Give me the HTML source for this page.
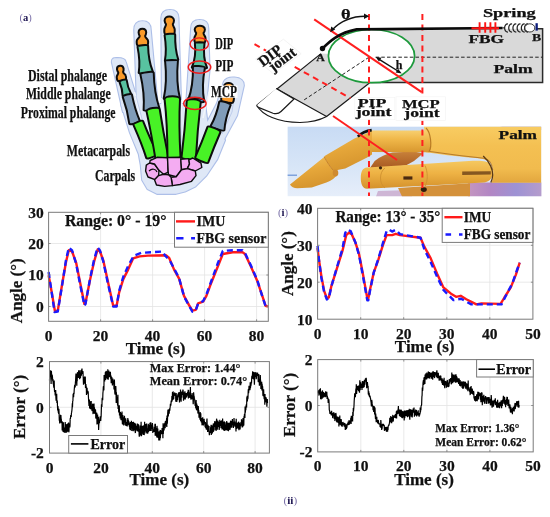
<!DOCTYPE html>
<html><head><meta charset="utf-8"><title>Figure</title>
<style>
html,body{margin:0;padding:0;background:#fff;}
body{width:550px;height:517px;overflow:hidden;}
svg{display:block;}
text{font-family:"Liberation Serif","Times New Roman",serif;font-weight:bold;fill:#111;stroke:#111;stroke-width:0.25px;}
.grid{stroke:#e3e3e3;stroke-width:0.8;}
.ax{fill:none;stroke:#7a7a7a;stroke-width:1;}
.tk{stroke:#7a7a7a;stroke-width:0.8;}
.leg{fill:#fff;stroke:#7a7a7a;stroke-width:1;}
.red{fill:none;stroke:#ff1a1a;stroke-width:2.4;stroke-linejoin:round;}
.blue{fill:none;stroke:#1a1aff;stroke-width:2.4;stroke-dasharray:6 4;stroke-linejoin:round;}
.err{fill:none;stroke:#000;stroke-width:1.2;stroke-linejoin:bevel;}
.errl{stroke:#000;stroke-width:1.6;}
.tl{font-size:15.5px;}
.lt{font-size:14px;}
.rg{font-size:15.8px;}
.al{font-size:17px;}
.me{font-size:12.3px;}
.lab{font-size:10.5px;font-weight:bold;}
</style></head>
<body>
<svg width="550" height="517" viewBox="0 0 550 517">
<rect width="550" height="517" fill="#fff"/>
<g id="hand">
<g fill="none" stroke="#adbfe8" stroke-width="2.2" stroke-linejoin="round">
<path d="M111.9 62 C111.9 57.5 115 58.2 117.8 58.2 C121 58.2 124.8 58.5 125.7 62 L141 112 L123 112 Z"/>
<path d="M134.3 30 C134.3 23.5 138 21.3 142.5 21.3 C147 21.3 150.7 23.5 150.7 30 L157.5 104 L137 104 Z"/>
<path d="M161.4 18 C161.4 12.5 165 10 170 10 C175 10 178.4 12.5 178.4 18 L181 104 L162 104 Z"/>
<path d="M191.2 28 C191.2 22 195 20 199.7 20 C204.5 20 208.2 22 208.2 28 L209.5 70 L206.5 100 L205 108 L186 108 Z"/>
<path d="M223.8 82 C225.5 78.5 230 77.3 234.5 77.6 C240 78 243.8 80.5 243.8 85.5 L237 115.6 L213 160 L205 122 L207.5 121.8 L217.2 103 Z"/>
<path d="M121 104 L205 104 L207.3 121.5 L215 130 L225 140 L217.3 159.1 L206.4 175.5 L195.3 186.5 L185 191.5 L176 193.8 L157 193.8 L147.5 189 L142.2 180 L140.8 165 L138.8 154 L130 132.7 Z"/>
</g><g fill="#dfe8f7" stroke="none">
<path d="M111.9 62 C111.9 57.5 115 58.2 117.8 58.2 C121 58.2 124.8 58.5 125.7 62 L141 112 L123 112 Z"/>
<path d="M134.3 30 C134.3 23.5 138 21.3 142.5 21.3 C147 21.3 150.7 23.5 150.7 30 L157.5 104 L137 104 Z"/>
<path d="M161.4 18 C161.4 12.5 165 10 170 10 C175 10 178.4 12.5 178.4 18 L181 104 L162 104 Z"/>
<path d="M191.2 28 C191.2 22 195 20 199.7 20 C204.5 20 208.2 22 208.2 28 L209.5 70 L206.5 100 L205 108 L186 108 Z"/>
<path d="M223.8 82 C225.5 78.5 230 77.3 234.5 77.6 C240 78 243.8 80.5 243.8 85.5 L237 115.6 L213 160 L205 122 L207.5 121.8 L217.2 103 Z"/>
<path d="M121 104 L205 104 L207.3 121.5 L215 130 L225 140 L217.3 159.1 L206.4 175.5 L195.3 186.5 L185 191.5 L176 193.8 L157 193.8 L147.5 189 L142.2 180 L140.8 165 L138.8 154 L130 132.7 Z"/>
</g>
<g fill="none" stroke="#f4f7fc" stroke-width="1.6" opacity="0.9">
<path d="M134.5 92 L146 140 M158 100 L165 150 M161.8 98 L163 120 M181 100 L182 150 M186.5 100 L184 140 M209 92 L203 118"/>
</g>
<g fill="none" stroke="#b9c8ea" stroke-width="0.9">
<path d="M136 96 L147.5 140 M157 104 L164 148 M180.5 104 L181.5 150 M187 104 L185 140 M235.5 88 L232 112 L222 134"/>
</g>
<g stroke="#0d0d0d" stroke-width="2.0" stroke-linejoin="round">
<path d="M117.0 69.5 C116.5 65.0 123.0 64.2 123.6 68.7 C123.7 70.8 123.1 71.8 123.1 71.8 C123.3 73.7 125.6 74.2 125.8 75.9 C126.2 77.9 126.4 80.1 125.0 80.3 L118.6 81.1 C117.2 81.3 116.9 79.1 116.7 77.1 C116.5 75.3 118.6 74.3 118.3 72.4 C118.3 72.4 117.5 71.6 117.0 69.5 Z" fill="#f99a2a"/>
<path d="M119.5 82.0 C119.1 80.5 126.3 78.5 126.7 80.0 C127.3 85.0 128.4 89.0 131.0 93.4 C131.5 95.0 123.0 97.3 122.6 95.8 C122.6 90.6 121.5 86.6 119.5 82.0 Z" fill="#58c2a0"/>
<path d="M122.7 96.8 C122.3 95.3 131.5 92.8 131.9 94.4 C133.8 103.9 135.9 112.0 139.9 121.0 C140.3 122.5 129.7 125.4 129.3 123.8 C128.1 114.1 126.0 106.0 122.7 96.8 Z" fill="#809cb8"/>
<path d="M133.5 125.2 C132.8 123.4 142.3 119.4 143.1 121.2 C147.6 132.7 151.7 142.5 157.5 153.5 C158.3 155.3 147.0 159.9 146.3 158.1 C142.6 146.3 138.5 136.5 133.5 125.2 Z" fill="#48f226"/>
<path d="M138.6 32.5 C138.6 27.4 146.2 27.4 146.2 32.5 C146.0 34.9 145.1 35.9 145.1 35.9 C145.1 38.1 148.1 39.0 148.1 41.0 C148.2 43.2 148.1 45.8 146.4 45.8 L138.4 45.8 C136.7 45.8 136.6 43.2 136.7 41.0 C136.7 39.0 139.7 38.1 139.7 35.9 C139.7 35.9 138.8 34.9 138.6 32.5 Z" fill="#f99a2a"/>
<path d="M137.5 46.9 C137.4 45.3 147.9 44.2 148.1 45.7 C148.3 54.8 149.2 62.5 152.7 71.2 C152.8 72.8 138.9 74.3 138.7 72.8 C140.2 63.5 139.3 55.8 137.5 46.9 Z" fill="#58c2a0"/>
<path d="M140.3 74.1 C140.1 72.6 153.6 70.9 153.7 72.5 C154.0 85.2 155.3 96.0 159.4 108.2 C159.6 109.8 143.8 111.7 143.6 110.2 C144.5 97.3 143.2 86.5 140.3 74.1 Z" fill="#809cb8"/>
<path d="M146.5 111.4 C145.9 108.6 159.2 106.2 159.7 109.0 C162.2 125.6 164.8 139.8 168.2 156.3 C168.5 158.1 155.7 160.5 155.4 158.7 C152.7 142.1 150.1 127.9 146.5 111.4 Z" fill="#48f226"/>
<path d="M164.6 20.7 C164.5 15.3 173.9 15.1 174.0 20.5 C173.8 23.0 172.8 24.1 172.8 24.1 C172.8 26.4 174.6 27.3 174.7 29.4 C174.8 31.8 174.8 34.5 173.2 34.5 L166.0 34.7 C164.4 34.7 164.2 32.0 164.3 29.7 C164.2 27.5 166.0 26.6 166.0 24.2 C166.0 24.2 164.9 23.2 164.6 20.7 Z" fill="#f99a2a"/>
<path d="M164.6 35.3 C164.5 33.7 175.1 33.0 175.2 34.5 C175.0 43.5 175.5 51.0 178.3 59.8 C178.4 61.3 165.0 62.2 164.9 60.6 C166.5 51.6 166.0 44.1 164.6 35.3 Z" fill="#58c2a0"/>
<path d="M165.1 61.2 C165.1 59.6 177.9 59.5 177.9 61.0 C176.7 74.1 176.8 85.3 179.9 98.3 C179.9 99.9 163.7 100.0 163.7 98.5 C166.6 85.4 166.5 74.2 165.1 61.2 Z" fill="#809cb8"/>
<path d="M164.6 99.4 C164.5 95.5 179.9 95.1 180.0 99.0 C178.9 119.3 179.4 136.6 180.5 156.8 C180.6 158.6 167.6 159.0 167.5 157.2 C167.4 136.9 166.9 119.6 164.6 99.4 Z" fill="#48f226"/>
<path d="M194.7 29.7 C194.6 24.5 204.8 24.3 204.9 29.5 C204.7 31.9 203.5 32.9 203.5 32.9 C203.5 35.1 205.4 36.0 205.5 38.0 C205.6 40.2 205.5 42.8 203.9 42.8 L196.1 43.0 C194.5 43.0 194.3 40.4 194.4 38.2 C194.3 36.2 196.2 35.3 196.2 33.0 C196.2 33.0 195.0 32.0 194.7 29.7 Z" fill="#f99a2a"/>
<path d="M194.9 43.2 C194.9 41.7 204.5 41.8 204.5 43.4 C203.4 51.9 203.3 59.1 207.0 67.7 C207.0 69.3 191.8 69.1 191.8 67.5 C195.7 59.0 195.8 51.8 194.9 43.2 Z" fill="#58c2a0"/>
<path d="M192.9 66.7 C193.0 65.2 205.0 66.1 204.9 67.7 C202.7 79.2 201.9 89.2 204.2 101.1 C204.0 102.7 188.1 101.4 188.2 99.9 C192.4 88.5 193.2 78.5 192.9 66.7 Z" fill="#809cb8"/>
<path d="M188.3 97.7 C188.4 97.2 204.3 99.0 204.3 99.5 C203.9 100.4 203.8 101.2 203.7 102.2 C203.6 102.7 188.2 101.0 188.3 100.4 C188.4 99.5 188.5 98.7 188.3 97.7 Z" fill="#5b9fd9"/>
<path d="M186.7 101.2 C187.0 97.9 201.0 99.2 200.7 102.4 C198.4 122.0 196.9 138.9 195.9 158.6 C195.8 160.5 181.3 159.2 181.5 157.4 C184.0 137.8 185.5 120.9 186.7 101.2 Z" fill="#48f226"/>
<path d="M223.6 87.0 C224.2 81.2 234.1 82.1 233.6 87.9 C233.1 90.6 231.8 91.7 231.9 91.3 C231.6 94.2 234.2 95.4 234.0 97.8 C233.9 100.3 233.5 103.2 231.6 103.0 L222.8 102.2 C220.9 102.0 221.1 99.1 221.4 96.6 C221.6 94.3 224.4 93.5 224.7 90.6 C224.7 91.0 223.6 89.7 223.6 87.0 Z" fill="#f99a2a"/>
<path d="M219.3 101.5 C219.7 100.0 231.2 103.4 230.7 104.9 C227.3 113.4 225.0 120.9 224.4 130.3 C223.9 131.8 210.2 127.6 210.6 126.1 C215.2 118.0 217.5 110.5 219.3 101.5 Z" fill="#809cb8"/>
<path d="M207.5 126.8 C208.2 125.1 221.2 130.3 220.5 132.0 C215.9 142.6 212.2 151.8 208.2 162.6 C207.5 164.3 194.5 159.1 195.2 157.4 C199.8 146.8 203.5 137.6 207.5 126.8 Z" fill="#48f226"/>
<path d="M146.3 165.2 L149.5 163.0 L154.5 164.0 L159.0 170.3 L158.6 175.6 L155.0 179.6 L148.0 177.0 L145.6 171.0 Z" fill="#f4acf2" stroke-width="1.4"/>
<path d="M150.1 160.5 L157.1 157.3 L167.5 157.8 L168.2 172.2 L163.5 174.3 L159.0 170.3 L154.5 164.0 L149.8 163.0 Z" fill="#f4acf2" stroke-width="1.4"/>
<path d="M167.5 157.5 L180.8 157.3 L181.5 169.8 L176.2 176.7 L168.5 174.8 L168.2 172.2 Z" fill="#f4acf2" stroke-width="1.4"/>
<path d="M180.8 159.3 L188.9 158.6 L189.5 164.0 L187.2 168.6 L181.5 169.8 Z" fill="#f4acf2" stroke-width="1.4"/>
<path d="M188.9 159.8 L192.7 158.0 L201.0 163.2 L201.8 167.5 L195.3 171.0 L187.4 168.6 L189.5 164.0 Z" fill="#f4acf2" stroke-width="1.4"/>
<path d="M171.1 177.3 L176.2 176.7 L181.5 169.8 L187.4 168.6 L195.3 171.0 L196.0 175.6 L191.5 181.3 L180.0 184.5 L172.4 185.6 Z" fill="#f4acf2" stroke-width="1.4"/>
<path d="M154.5 179.8 L158.6 175.6 L163.5 174.3 L168.5 174.8 L171.1 177.3 L172.4 185.6 L164.7 186.4 L156.5 185.0 Z" fill="#f4acf2" stroke-width="1.4"/>
<path d="M149 171 C152 168 156 169 157 172" fill="none" stroke-width="1.2"/>
</g>
<g fill="none" stroke="#ee1c1c" stroke-width="1.4">
<ellipse cx="199.3" cy="44" rx="9.2" ry="6.1"/>
<ellipse cx="199.5" cy="67.1" rx="11.3" ry="6.1"/>
<ellipse cx="194.9" cy="103.4" rx="11.2" ry="6.1"/>
</g>
<rect x="210.5" y="85.5" width="27" height="12.3" fill="#fff"/>
</g>
<text x="67.5" y="80.6" text-anchor="middle" font-size="16" textLength="79" lengthAdjust="spacingAndGlyphs">Distal phalange</text>
<text x="68.3" y="99.3" text-anchor="middle" font-size="16" textLength="84.6" lengthAdjust="spacingAndGlyphs">Middle phalange</text>
<text x="68.2" y="117.5" text-anchor="middle" font-size="16" textLength="94.7" lengthAdjust="spacingAndGlyphs">Proximal phalange</text>
<text x="98.4" y="155.9" text-anchor="middle" font-size="16" textLength="63.2" lengthAdjust="spacingAndGlyphs">Metacarpals</text>
<text x="115.1" y="180.8" text-anchor="middle" font-size="16" textLength="40.1" lengthAdjust="spacingAndGlyphs">Carpals</text>
<text x="224.2" y="48.5" text-anchor="middle" font-size="16" textLength="18.1" lengthAdjust="spacingAndGlyphs">DIP</text>
<text x="224.2" y="70.6" text-anchor="middle" font-size="16" textLength="18.1" lengthAdjust="spacingAndGlyphs">PIP</text>
<text x="223.9" y="97.2" text-anchor="middle" font-size="16" textLength="26" lengthAdjust="spacingAndGlyphs">MCP</text>
<g id="photo">
<defs>
<linearGradient id="pbg" x1="0" y1="0" x2="0" y2="1">
<stop offset="0" stop-color="#c8dbf4"/><stop offset="0.55" stop-color="#d7e5f7"/><stop offset="1" stop-color="#e6eefa"/>
</linearGradient>
<linearGradient id="pur" x1="0" y1="0" x2="1" y2="0">
<stop offset="0" stop-color="#c496c0"/><stop offset="0.3" stop-color="#b286c4"/><stop offset="0.65" stop-color="#9d92d4"/><stop offset="1" stop-color="#b59ccc"/>
</linearGradient>
<linearGradient id="wv" x1="0" y1="0" x2="0" y2="1">
<stop offset="0" stop-color="#f7cf70"/><stop offset="0.4" stop-color="#f0b84a"/><stop offset="1" stop-color="#d8972f"/>
</linearGradient>
<linearGradient id="wv2" x1="0" y1="0" x2="0" y2="1">
<stop offset="0" stop-color="#f5c860"/><stop offset="0.45" stop-color="#eeb244"/><stop offset="1" stop-color="#d4912c"/>
</linearGradient>
<linearGradient id="wd" x1="0" y1="0" x2="0.3" y2="1">
<stop offset="0" stop-color="#f2c05a"/><stop offset="0.5" stop-color="#e6a73a"/><stop offset="1" stop-color="#d6952e"/>
</linearGradient>
<linearGradient id="wpalm" x1="0" y1="0" x2="0" y2="1">
<stop offset="0" stop-color="#f8cc62"/><stop offset="0.35" stop-color="#f4c052"/><stop offset="0.75" stop-color="#f1bb4e"/><stop offset="1" stop-color="#e2a63e"/>
</linearGradient>
<linearGradient id="wdark" x1="0" y1="0" x2="0" y2="1">
<stop offset="0" stop-color="#c8813a"/><stop offset="1" stop-color="#a85a22"/>
</linearGradient>
<clipPath id="pclip"><rect x="287.4" y="126.4" width="254" height="70"/></clipPath>
</defs>
<g clip-path="url(#pclip)">
<rect x="287.4" y="126.4" width="254" height="70" fill="url(#pbg)"/>
<rect x="468" y="182.5" width="74" height="14" fill="url(#pur)"/>
<path d="M378 191 L412 190 L412 196.5 L376 196.5 Z" fill="#c8a8cc" opacity="0.8"/>
<path d="M500 126.4 L541.4 126.4 L541.4 130 L510 128.5 Z" fill="#a896cf"/>
<path d="M287.4 175.2 L297 175.2" stroke="#7fa2dc" stroke-width="1.6"/>
<path d="M398 188 L470 183.2 L470 196.5 L402 196.5 Z" fill="#d4913a"/>
<path d="M424 126.4 L541.4 126.4 L541.4 182.8 L491.5 182.8 C494 176 494 167 490 162 C486 159.5 482 158.6 478 158.2 C470 157.6 462 156.8 455 156 C445 154.8 436 153.6 426 152.2 Z" fill="url(#wpalm)"/>
<path d="M430 151.5 C450 154.5 470 156.8 484 158.2 C489 159.5 492 163 492.7 170" stroke="#a86a20" stroke-width="1.1" fill="none" opacity="0.8"/>
<path d="M370 168 L374.7 161 C380 156.5 386 154 392.7 152.5 L414 151.5 L423 153.5 L414 161 L405.8 165.5 L381.3 168 Z" fill="url(#wdark)"/>
<path d="M368 130.6 L426 130.4 C430.5 134 432.5 146 429 152.2 L368 152 Z" fill="url(#wv)"/>
<path d="M426 128 C430.5 132 432.5 146 429 152" stroke="#b87a24" stroke-width="1.2" fill="none"/>
<path d="M324.2 156.2 L354 138.7 L360 136 L372 131 L372 154.4 L367.1 157.6 L345.3 168.5 L333.6 170.7 C330 167 326 161 324.2 156.2 Z" fill="url(#wd)"/>
<path d="M290 184.5 L324.2 156.9 C327 162 330 167 333.6 170.7 L337.3 173.6 C336 178 331 181 326.4 182.4 L311.8 187.5 L297.3 188.2 C294 188 291 187 290 184.5 Z" fill="url(#wd)"/>
<path d="M324.2 156.9 C327 162 330 167 333.6 170.7" stroke="#c47e26" stroke-width="0.9" fill="none"/>
<ellipse cx="335.5" cy="173" rx="2.8" ry="3.4" fill="#cf8a2e"/>
<path d="M367 167.5 L411 164.7 L469 161 C478 160.6 486 160.8 489 163 C492 166 493 171 492 176 C491 180 488 182 484 182.5 L367 188.7 C362 188.5 360.8 183 360.8 178 C360.8 172 362.5 167.8 367 167.5 Z" fill="url(#wv2)"/>
<path d="M385 168 C379 172 379 184 385 188" stroke="#cf9030" stroke-width="0.9" fill="none"/>
<path d="M425 165.5 C428 172 428 181 425 186.5" stroke="#cf9030" stroke-width="0.9" fill="none"/>
<rect x="403.4" y="176.4" width="9" height="3.2" fill="#4a2a10"/>
<path d="M462.2 171.5 L490.8 171.3 L490.8 174.4 L462.2 175" fill="#6a4018" opacity="0.8"/>
<ellipse cx="423.8" cy="189.6" rx="3" ry="2.3" fill="#2e1c0c"/>
<circle cx="380.5" cy="167.8" r="1.6" fill="#3a2410"/>
<path d="M483.2 156 C490 162 493 170 492.7 175 C492.5 179 491.5 181 490.8 182.5" stroke="#5a3a14" stroke-width="1.3" fill="none"/>
<text x="517.8" y="138.9" text-anchor="middle" font-size="12" textLength="38.5" lengthAdjust="spacingAndGlyphs">Palm</text>
</g>
<path d="M357.8 136.6 C362 132.5 366 130.8 371.7 130.1" stroke="#111" stroke-width="2.6" fill="none"/>
<path d="M333 116 L397 160" stroke="#ff1f1f" stroke-width="2" fill="none"/>
</g>
<g id="schem">
<rect x="369" y="28.8" width="174" height="53.8" fill="#d9d9d9"/>
<path d="M536 28.8 L542.6 28.8 L542.6 82.6 L369 82.6" fill="none" stroke="#2a2a2a" stroke-width="1.5"/>
<path d="M321 53.6 L276.2 88.6 L326.6 116.5 L369.4 83 L369.4 56 Z" fill="#d9d9d9"/>
<g fill="none" stroke="#1a1a1a" stroke-width="1.2" stroke-linejoin="round">
<path d="M321 53.6 L256.8 105.2"/>
<path d="M276.2 88.6 L326.6 116.5 L369.4 83"/>
<path d="M256.8 105.2 C262 115 278 122.5 300 122.5 C312 122.3 321 119.5 326.6 116.5"/>
<path d="M276.2 88.6 L294 99 L281 111.5 C279 113.5 276 114.2 273 113.2 L259 107.6 C257.5 107 256.8 106 256.8 105.2" fill="#fff"/>
</g>
<ellipse cx="371.5" cy="56.1" rx="43.1" ry="26.6" fill="#fff" stroke="#1d9a3c" stroke-width="1.7"/>
<g stroke="#222" stroke-width="1" stroke-dasharray="3.5 2.2" fill="none">
<path d="M375.6 57.2 L542 57.2"/>
<path d="M369 57.2 L303.5 100.3"/>
</g>
<g stroke="#ff1f1f" stroke-width="2" stroke-dasharray="6 4.5" fill="none">
<path d="M369 14 L369 196"/>
<path d="M422.4 14 L422.4 196"/>
<path d="M254.5 44.2 L266 50.7"/>
<path d="M294.7 66.9 L350.5 98.2"/>
</g>
<path d="M314.2 19.4 L421.7 92.2" stroke="#ff1f1f" stroke-width="2" fill="none"/>
<path d="M322.5 48.5 C329 42 338 33 356.7 29.4 L502.5 28" stroke="#0a0a0a" stroke-width="2.6" fill="none"/>
<circle cx="322.5" cy="48.5" r="2.7" fill="#0a0a0a"/>
<g stroke="#ff1414" stroke-width="1.9" fill="none">
<path d="M471.5 28.3 L499 28.3 M479.6 22.2 L479.6 32.7 M485.2 22.2 L485.2 32.7 M490.4 22.2 L490.4 32.7 M495.4 22.2 L495.4 32.7"/>
</g>
<g stroke="#222" stroke-width="1.25" fill="none"><path d="M508.0 24 C503.5 23.6 503.5 32.2 508.0 32" /><path d="M512.1 24 C507.6 23.6 507.6 32.2 512.1 32" /><path d="M516.3 24 C511.8 23.6 511.8 32.2 516.3 32" /><path d="M520.5 24 C516.0 23.6 516.0 32.2 520.5 32" /><path d="M524.7 24 C520.2 23.6 520.2 32.2 524.7 32" /><path d="M528.0 24 C523.5 23.6 523.5 32.2 528.0 32" /></g>
<ellipse cx="529.8" cy="27.9" rx="5" ry="4.1" fill="#fff" stroke="#222" stroke-width="0.9"/>
<path d="M502.3 27.9 L505 27.9" stroke="#222" stroke-width="1.2"/>
<rect x="535.5" y="23.2" width="2.3" height="7.4" fill="#0b1b7a"/>
<path d="M332 30 Q346 15.5 367.5 16.3" stroke="#111" stroke-width="1.3" fill="none"/>
<path d="M330.2 32.2 L331.2 26.6 L335.2 29.6 Z" fill="#111"/>
<path d="M369.2 16.3 L364 13.6 L364 19 Z" fill="#111"/>
<path d="M378 58.6 L399.5 72" stroke="#111" stroke-width="1.4" fill="none"/>
<path d="M375.6 57 L381.5 57.8 L379 61.6 Z" fill="#111"/>
<path d="M401.8 73.5 L395.6 72.6 L398.2 68.9 Z" fill="#111"/>
<path d="M255.6 59.2 L283.4 39.2 L301.1 53.7 L273.3 73.7 Z" fill="#fff" stroke="#eeeeee" stroke-width="0.7"/>
<rect x="354.8" y="97.3" width="40" height="22.4" fill="#fff" stroke="#f4f4f4" stroke-width="0.7"/>
<rect x="396" y="96.8" width="49.5" height="23.8" fill="#fff" stroke="#f4f4f4" stroke-width="0.7"/>
<text transform="translate(270,55.4) rotate(-37)" text-anchor="middle" font-size="15" dy="5">DIP</text>
<text transform="translate(282.9,60.3) rotate(-37)" text-anchor="middle" font-size="15" dy="3.8">joint</text>
<text x="372" y="106.9" text-anchor="middle" font-size="12.6" textLength="28.7" lengthAdjust="spacingAndGlyphs">PIP</text>
<text x="373.6" y="115.6" text-anchor="middle" font-size="12.6" textLength="35.9" lengthAdjust="spacingAndGlyphs">joint</text>
<text x="420.8" y="108.2" text-anchor="middle" font-size="12.6" textLength="37.8" lengthAdjust="spacingAndGlyphs">MCP</text>
<text x="422" y="116.6" text-anchor="middle" font-size="12.6" textLength="35.3" lengthAdjust="spacingAndGlyphs">joint</text>
<text x="509.3" y="17.4" text-anchor="middle" font-size="12" textLength="52.8" lengthAdjust="spacingAndGlyphs">Spring</text>
<text x="486.2" y="42.9" text-anchor="middle" font-size="12.8" textLength="35.5" lengthAdjust="spacingAndGlyphs">FBG</text>
<text x="531.9" y="41.3" font-size="10.6" textLength="9.2" lengthAdjust="spacingAndGlyphs">B</text>
<text x="513.1" y="73.4" text-anchor="middle" font-size="12" textLength="39.2" lengthAdjust="spacingAndGlyphs">Palm</text>
<text x="341" y="19" font-size="14.5" textLength="9.6" lengthAdjust="spacingAndGlyphs">θ</text>
<text x="316.2" y="60.6" font-size="10.5" textLength="8.6" lengthAdjust="spacingAndGlyphs">A</text>
<text x="395.7" y="68.5" font-size="12">h</text>
</g>
<line x1="100.6" y1="212.3" x2="100.6" y2="321.3" class="grid"/>
<line x1="152.6" y1="212.3" x2="152.6" y2="321.3" class="grid"/>
<line x1="204.6" y1="212.3" x2="204.6" y2="321.3" class="grid"/>
<line x1="256.6" y1="212.3" x2="256.6" y2="321.3" class="grid"/>
<line x1="48.6" y1="306.5" x2="268.3" y2="306.5" class="grid"/>
<line x1="48.6" y1="275.0" x2="268.3" y2="275.0" class="grid"/>
<line x1="48.6" y1="243.5" x2="268.3" y2="243.5" class="grid"/>
<polyline points="48.6,275.3 51.5,291.0 54.9,311.0 57.8,310.6 62.0,285.0 66.0,262.0 68.8,250.2 72.1,251.5 76.2,263.0 80.0,282.0 84.4,304.0 85.5,303.0 90.0,280.0 94.0,262.0 97.6,249.5 100.0,251.5 103.3,260.5 108.0,282.0 113.2,305.7 116.6,305.7 119.1,292.6 123.2,279.4 128.1,269.6 133.1,258.4 139.6,256.4 147.9,255.6 165.9,255.3 169.2,258.0 174.1,269.6 179.1,278.6 184.0,295.9 188.9,304.9 192.4,310.7 195.7,309.9 198.2,303.3 203.1,301.7 206.4,295.9 211.3,282.7 217.9,266.3 222.8,254.0 232.7,252.3 242.5,252.3 245.0,254.0 250.8,266.3 257.3,281.1 262.3,295.9 265.6,305.8 268.0,306.6" class="red"/>
<polyline points="48.6,272.0 51.5,291.0 54.5,312.0 57.8,311.5 62.0,286.0 66.0,260.0 68.8,247.5 72.1,250.5 76.2,264.0 80.0,284.0 84.4,305.5 85.5,304.0 90.0,279.0 94.0,260.0 97.6,247.5 100.0,250.5 103.3,261.5 108.0,284.0 113.2,306.5 116.6,306.5 119.1,291.0 123.2,277.0 128.1,266.0 133.9,255.6 141.3,252.8 151.1,252.3 162.6,251.5 165.1,255.6 169.5,260.0 174.1,268.6 179.1,278.0 184.0,296.5 188.9,305.5 192.4,311.7 195.7,310.5 198.2,303.3 203.1,301.2 206.4,294.5 211.3,281.0 217.9,263.0 222.8,251.0 232.7,250.2 242.5,250.2 245.0,253.0 250.8,265.3 257.3,280.1 262.3,296.5 265.6,306.2 268.0,306.6" class="blue"/>
<rect x="48.6" y="212.3" width="219.7" height="109.0" class="ax"/>
<line x1="100.6" y1="321.3" x2="100.6" y2="319.3" class="tk"/>
<line x1="100.6" y1="212.3" x2="100.6" y2="214.3" class="tk"/>
<line x1="152.6" y1="321.3" x2="152.6" y2="319.3" class="tk"/>
<line x1="152.6" y1="212.3" x2="152.6" y2="214.3" class="tk"/>
<line x1="204.6" y1="321.3" x2="204.6" y2="319.3" class="tk"/>
<line x1="204.6" y1="212.3" x2="204.6" y2="214.3" class="tk"/>
<line x1="256.6" y1="321.3" x2="256.6" y2="319.3" class="tk"/>
<line x1="256.6" y1="212.3" x2="256.6" y2="214.3" class="tk"/>
<line x1="48.6" y1="306.5" x2="50.6" y2="306.5" class="tk"/>
<line x1="268.3" y1="306.5" x2="266.3" y2="306.5" class="tk"/>
<line x1="48.6" y1="275.0" x2="50.6" y2="275.0" class="tk"/>
<line x1="268.3" y1="275.0" x2="266.3" y2="275.0" class="tk"/>
<line x1="48.6" y1="243.5" x2="50.6" y2="243.5" class="tk"/>
<line x1="268.3" y1="243.5" x2="266.3" y2="243.5" class="tk"/>
<text x="48.6" y="341.3" class="tl" text-anchor="middle">0</text>
<text x="100.6" y="341.3" class="tl" text-anchor="middle">20</text>
<text x="152.6" y="341.3" class="tl" text-anchor="middle">40</text>
<text x="204.6" y="341.3" class="tl" text-anchor="middle">60</text>
<text x="256.6" y="341.3" class="tl" text-anchor="middle">80</text>
<text x="43.8" y="311.8" class="tl" text-anchor="end">0</text>
<text x="43.8" y="280.3" class="tl" text-anchor="end">10</text>
<text x="43.8" y="248.8" class="tl" text-anchor="end">20</text>
<text x="43.8" y="217.6" class="tl" text-anchor="end">30</text>
<rect x="174.5" y="212.3" width="93.8" height="34.9" class="leg"/>
<line x1="176" y1="221.4" x2="195" y2="221.4" class="red"/>
<line x1="176.2" y1="238.3" x2="195" y2="238.3" class="blue" style="stroke-dasharray:7.3 7.6"/>
<text x="196.5" y="226.3" class="lt">IMU</text>
<text x="196.5" y="243.2" class="lt" textLength="69.9" lengthAdjust="spacingAndGlyphs">FBG sensor</text>
<text x="64.9" y="226.3" class="rg" textLength="101.7" lengthAdjust="spacingAndGlyphs">Range: 0° - 19°</text>
<text transform="translate(22,290.7) rotate(-90)" class="al" text-anchor="middle">Angle (°)</text>
<text x="155.5" y="354" class="al" text-anchor="middle">Time (s)</text>
<line x1="360.7" y1="208.3" x2="360.7" y2="319.2" class="grid"/>
<line x1="403.7" y1="208.3" x2="403.7" y2="319.2" class="grid"/>
<line x1="446.8" y1="208.3" x2="446.8" y2="319.2" class="grid"/>
<line x1="489.8" y1="208.3" x2="489.8" y2="319.2" class="grid"/>
<line x1="317.6" y1="282.2" x2="532.9" y2="282.2" class="grid"/>
<line x1="317.6" y1="245.3" x2="532.9" y2="245.3" class="grid"/>
<polyline points="317.6,248.0 318.7,258.0 321.4,276.4 324.2,291.1 326.9,298.4 328.8,297.5 331.5,285.6 337.0,268.1 342.5,250.7 346.2,235.1 349.0,232.7 351.7,234.2 355.4,242.4 359.1,254.4 362.7,272.7 367.3,298.4 368.3,298.4 370.1,289.3 373.7,272.7 378.3,259.9 382.9,245.2 386.6,235.1 392.1,235.1 395.8,233.8 400.0,235.1 420.5,237.7 424.3,246.6 430.6,258.1 437.0,273.4 443.4,287.4 451.0,293.7 456.1,296.8 460.7,295.8 466.3,299.3 476.4,304.4 481.5,303.4 500.6,303.9 504.4,297.5 510.8,287.4 515.9,274.6 519.7,262.7" class="red"/>
<polyline points="317.6,246.0 318.7,258.0 321.4,278.0 324.2,292.5 326.9,299.5 328.8,298.5 331.5,286.0 337.0,267.0 342.5,248.7 345.2,233.0 347.1,229.6 350.7,231.2 355.4,242.4 359.1,255.4 362.7,274.7 367.3,300.4 368.3,300.4 370.1,290.3 373.7,272.7 378.3,258.9 382.9,243.2 386.6,231.1 389.0,229.6 392.1,231.6 395.8,229.8 400.0,234.1 420.5,237.7 424.3,249.2 430.6,262.0 437.0,276.5 443.4,289.9 453.5,300.1 461.2,298.8 471.4,304.4 480.0,304.4 501.5,304.4 506.0,295.5 512.5,283.0 517.0,270.0 519.7,262.7" class="blue"/>
<rect x="317.6" y="208.3" width="215.3" height="110.9" class="ax"/>
<line x1="360.7" y1="319.2" x2="360.7" y2="317.2" class="tk"/>
<line x1="360.7" y1="208.3" x2="360.7" y2="210.3" class="tk"/>
<line x1="403.7" y1="319.2" x2="403.7" y2="317.2" class="tk"/>
<line x1="403.7" y1="208.3" x2="403.7" y2="210.3" class="tk"/>
<line x1="446.8" y1="319.2" x2="446.8" y2="317.2" class="tk"/>
<line x1="446.8" y1="208.3" x2="446.8" y2="210.3" class="tk"/>
<line x1="489.8" y1="319.2" x2="489.8" y2="317.2" class="tk"/>
<line x1="489.8" y1="208.3" x2="489.8" y2="210.3" class="tk"/>
<line x1="317.6" y1="282.2" x2="319.6" y2="282.2" class="tk"/>
<line x1="532.9" y1="282.2" x2="530.9" y2="282.2" class="tk"/>
<line x1="317.6" y1="245.3" x2="319.6" y2="245.3" class="tk"/>
<line x1="532.9" y1="245.3" x2="530.9" y2="245.3" class="tk"/>
<text x="317.6" y="338.7" class="tl" text-anchor="middle">0</text>
<text x="360.7" y="338.7" class="tl" text-anchor="middle">10</text>
<text x="403.7" y="338.7" class="tl" text-anchor="middle">20</text>
<text x="446.8" y="338.7" class="tl" text-anchor="middle">30</text>
<text x="489.8" y="338.7" class="tl" text-anchor="middle">40</text>
<text x="532.9" y="338.7" class="tl" text-anchor="middle">50</text>
<text x="312.5" y="324.5" class="tl" text-anchor="end">10</text>
<text x="312.5" y="287.5" class="tl" text-anchor="end">20</text>
<text x="312.5" y="250.6" class="tl" text-anchor="end">30</text>
<text x="312.5" y="213.6" class="tl" text-anchor="end">40</text>
<rect x="442.2" y="208.3" width="90.7" height="34.1" class="leg"/>
<line x1="444.4" y1="217.2" x2="462.5" y2="217.2" class="red"/>
<line x1="445.5" y1="234.5" x2="462.5" y2="234.5" class="blue" style="stroke-dasharray:5.6 7.9"/>
<text x="463.7" y="222.2" class="lt" textLength="27.5" lengthAdjust="spacingAndGlyphs">IMU</text>
<text x="463.7" y="239.4" class="lt" textLength="66.7" lengthAdjust="spacingAndGlyphs">FBG sensor</text>
<text x="335.4" y="221.7" class="rg" textLength="105" lengthAdjust="spacingAndGlyphs">Range: 13° - 35°</text>
<text transform="translate(293,263.6) rotate(-90)" class="al" text-anchor="middle">Angle (°)</text>
<text x="424.7" y="352.3" class="al" text-anchor="middle">Time (s)</text>
<line x1="100.9" y1="361.6" x2="100.9" y2="453.1" class="grid"/>
<line x1="152.3" y1="361.6" x2="152.3" y2="453.1" class="grid"/>
<line x1="203.7" y1="361.6" x2="203.7" y2="453.1" class="grid"/>
<line x1="255.1" y1="361.6" x2="255.1" y2="453.1" class="grid"/>
<line x1="49.5" y1="407.3" x2="269.4" y2="407.3" class="grid"/>
<polyline points="49.5,380.5 49.7,375.2 49.9,376.9 50.1,372.0 50.3,370.2 50.5,374.9 50.7,375.9 50.9,375.9 51.1,383.9 51.4,370.7 51.6,374.9 51.8,374.1 52.0,379.4 52.2,375.1 52.4,376.1 52.6,379.0 52.8,381.3 53.0,378.9 53.2,384.3 53.4,382.5 53.6,385.2 53.8,387.7 54.0,386.6 54.2,380.5 54.4,389.4 54.6,391.9 54.8,391.4 55.0,391.5 55.2,395.5 55.5,393.1 55.7,390.1 55.9,397.5 56.1,400.7 56.3,397.5 56.5,395.0 56.7,393.8 56.9,402.9 57.1,402.5 57.3,400.4 57.5,406.5 57.7,410.5 57.9,406.1 58.1,408.1 58.3,412.6 58.5,409.1 58.7,413.9 58.9,408.8 59.1,413.6 59.3,420.7 59.5,417.2 59.7,423.4 59.9,421.9 60.1,423.1 60.3,421.2 60.5,414.8 60.7,418.9 60.9,415.0 61.1,419.1 61.3,418.7 61.5,423.0 61.8,422.9 62.0,421.0 62.2,430.5 62.4,422.0 62.6,424.5 62.8,425.7 63.0,431.7 63.2,423.4 63.4,422.2 63.6,432.2 63.8,429.3 64.0,428.4 64.2,427.7 64.4,428.5 64.6,432.6 64.8,430.8 65.0,430.3 65.2,422.0 65.4,425.5 65.6,429.9 65.8,427.4 66.0,433.1 66.2,424.0 66.4,425.7 66.6,431.8 66.8,427.3 67.0,431.9 67.2,431.5 67.4,429.7 67.6,423.6 67.8,425.1 68.0,431.6 68.2,425.5 68.4,425.4 68.6,422.6 68.8,432.3 69.0,431.0 69.2,423.6 69.4,424.8 69.6,425.2 69.8,427.3 70.0,425.9 70.2,418.2 70.4,419.0 70.6,417.1 70.8,415.0 71.0,416.5 71.2,417.0 71.4,413.5 71.6,412.4 71.9,410.3 72.1,408.1 72.3,403.4 72.5,407.3 72.7,401.0 72.9,401.3 73.1,394.5 73.4,393.8 73.6,397.1 73.8,392.8 74.0,394.3 74.2,390.0 74.4,387.7 74.6,385.9 74.8,385.0 75.0,386.1 75.2,387.4 75.4,382.2 75.6,380.5 75.8,376.3 76.0,373.6 76.2,380.7 76.4,373.8 76.6,382.2 76.8,385.7 77.0,375.4 77.2,381.3 77.4,372.4 77.6,375.8 77.8,372.1 78.0,377.8 78.2,372.9 78.4,376.3 78.6,370.5 78.8,378.0 79.0,370.9 79.2,370.2 79.4,371.9 79.6,379.3 79.8,376.3 80.0,375.7 80.2,372.4 80.4,378.2 80.6,376.4 80.8,370.7 81.0,370.5 81.2,374.5 81.4,375.6 81.6,372.8 81.8,369.2 82.0,368.6 82.2,373.3 82.4,373.5 82.6,372.7 82.8,371.3 83.0,371.6 83.2,377.3 83.5,384.7 83.7,377.0 83.9,381.5 84.1,378.4 84.3,383.7 84.5,382.5 84.7,381.5 84.9,376.3 85.1,377.8 85.3,377.1 85.5,388.0 85.7,387.4 85.9,384.0 86.1,386.9 86.3,386.4 86.5,394.9 86.7,388.3 86.9,390.0 87.1,387.8 87.3,393.7 87.5,391.9 87.8,390.9 88.0,392.7 88.2,391.5 88.4,396.2 88.6,400.3 88.8,402.6 89.0,405.9 89.2,400.7 89.4,399.4 89.6,408.0 89.8,408.1 90.0,406.9 90.2,401.2 90.4,405.5 90.6,409.2 90.8,407.4 91.0,408.9 91.2,401.1 91.4,409.0 91.6,408.2 91.8,409.1 92.0,410.6 92.2,410.8 92.4,408.8 92.6,404.1 92.8,404.1 93.0,413.5 93.2,414.1 93.4,408.2 93.6,411.5 93.8,411.0 94.0,403.4 94.2,413.0 94.4,407.7 94.6,409.0 94.8,413.9 95.0,410.2 95.2,412.4 95.4,409.3 95.6,410.6 95.8,418.4 96.0,418.0 96.2,414.6 96.4,412.6 96.6,413.1 96.8,412.8 97.0,424.6 97.2,417.8 97.4,424.1 97.6,414.5 97.8,419.7 98.0,417.0 98.2,419.3 98.4,416.7 98.6,430.0 98.8,425.5 99.0,421.8 99.2,422.0 99.4,423.2 99.6,420.7 99.9,418.9 100.1,417.5 100.3,416.3 100.5,417.0 100.7,420.9 100.9,417.6 101.1,416.9 101.3,411.3 101.5,404.3 101.7,406.7 101.9,406.9 102.1,398.9 102.3,397.9 102.5,398.4 102.7,400.3 102.9,393.1 103.1,391.3 103.3,387.1 103.5,386.0 103.7,390.4 103.9,389.8 104.1,375.0 104.3,376.2 104.5,375.5 104.7,381.5 104.9,376.0 105.1,376.5 105.4,372.0 105.6,380.0 105.8,375.9 106.0,371.0 106.2,371.5 106.4,373.6 106.6,377.9 106.8,371.3 107.0,378.6 107.2,374.5 107.4,379.1 107.6,378.5 107.8,369.2 108.0,375.2 108.2,379.7 108.4,376.7 108.6,374.9 108.8,370.6 109.0,372.7 109.2,377.1 109.4,371.8 109.6,377.2 109.8,372.1 110.0,376.9 110.2,373.5 110.4,371.7 110.6,376.8 110.8,379.1 111.0,375.5 111.2,383.2 111.4,376.8 111.6,381.0 111.8,377.1 112.0,380.2 112.2,378.7 112.4,385.4 112.6,383.7 112.8,378.5 113.0,380.0 113.2,382.3 113.4,381.3 113.6,381.7 113.8,384.1 114.0,389.4 114.2,383.4 114.4,379.5 114.6,386.8 114.8,392.6 115.0,394.5 115.2,392.2 115.4,394.8 115.6,390.3 115.8,386.0 116.0,390.7 116.2,403.1 116.4,392.3 116.6,399.8 116.8,396.7 117.0,397.5 117.2,396.8 117.5,404.5 117.7,405.6 117.9,394.8 118.1,409.0 118.3,408.4 118.5,405.3 118.7,412.6 118.9,406.2 119.1,407.6 119.3,405.2 119.5,415.5 119.8,414.2 120.0,412.6 120.2,418.4 120.4,411.9 120.6,415.3 120.8,412.9 121.0,419.5 121.2,420.1 121.4,415.7 121.6,416.4 121.8,416.0 122.0,411.5 122.2,419.1 122.4,423.9 122.6,424.2 122.8,415.1 123.0,421.8 123.2,417.2 123.4,421.5 123.6,423.0 123.8,425.5 124.0,418.9 124.2,419.9 124.4,415.9 124.6,417.9 124.8,422.5 125.1,420.8 125.3,424.9 125.5,423.8 125.7,418.3 125.9,425.9 126.1,425.2 126.3,423.2 126.5,424.0 126.8,422.0 127.0,422.9 127.2,426.5 127.4,419.7 127.6,424.1 127.8,418.1 128.0,425.2 128.2,419.6 128.4,424.5 128.6,421.3 128.8,421.4 129.0,423.5 129.2,423.1 129.4,426.8 129.6,422.6 129.8,429.6 130.0,425.7 130.2,424.2 130.4,430.3 130.6,422.1 130.8,425.8 131.0,424.6 131.2,424.5 131.4,420.8 131.6,426.2 131.8,431.1 132.0,424.4 132.2,422.2 132.4,426.2 132.6,422.0 132.8,429.3 133.0,427.0 133.2,431.2 133.4,421.8 133.6,425.3 133.8,427.9 134.0,423.2 134.2,423.9 134.4,430.5 134.6,422.8 134.8,427.3 135.0,425.3 135.2,432.0 135.4,433.1 135.6,423.5 135.8,428.1 136.1,425.7 136.3,428.7 136.5,429.6 136.7,428.4 136.9,430.4 137.1,431.1 137.3,425.0 137.5,423.7 137.7,424.3 137.9,429.9 138.1,424.4 138.3,431.7 138.5,424.3 138.7,427.7 138.9,425.3 139.1,434.4 139.3,436.8 139.5,429.2 139.7,436.2 139.9,432.5 140.1,435.6 140.3,427.1 140.5,425.7 140.7,431.7 140.9,429.6 141.1,421.7 141.3,434.1 141.5,436.3 141.7,425.7 141.9,431.1 142.1,433.6 142.4,430.6 142.6,425.7 142.8,431.2 143.0,433.0 143.2,435.0 143.4,428.5 143.6,431.6 143.8,425.3 144.0,427.5 144.2,435.1 144.4,431.8 144.6,421.8 144.8,431.4 145.0,430.4 145.2,427.8 145.4,424.0 145.6,426.1 145.8,427.2 146.0,432.0 146.2,433.5 146.4,423.5 146.6,431.1 146.8,432.5 147.1,428.3 147.3,430.0 147.5,430.7 147.7,433.7 147.9,426.4 148.1,424.2 148.3,423.9 148.5,432.1 148.7,430.5 148.9,429.6 149.1,429.9 149.3,424.9 149.5,429.6 149.7,431.0 149.9,422.8 150.2,430.4 150.4,430.3 150.6,422.4 150.8,422.7 151.0,430.0 151.2,430.9 151.4,424.8 151.6,426.4 151.8,427.6 152.0,429.0 152.2,424.8 152.4,423.0 152.6,425.5 152.8,433.1 153.0,426.9 153.2,430.8 153.4,430.5 153.6,431.1 153.8,429.3 154.0,431.9 154.2,429.4 154.4,431.0 154.6,427.5 154.8,426.4 155.0,423.8 155.2,435.7 155.4,423.7 155.6,433.7 155.8,434.0 156.0,427.7 156.2,431.0 156.4,436.0 156.6,428.4 156.8,437.5 157.0,425.9 157.2,428.8 157.4,437.2 157.6,437.5 157.8,428.6 158.0,435.7 158.2,431.9 158.4,432.9 158.6,434.0 158.8,440.4 159.0,439.5 159.2,431.2 159.4,435.7 159.6,435.0 159.8,440.5 160.0,432.1 160.2,429.9 160.4,438.3 160.6,430.0 160.8,434.7 161.0,431.1 161.2,432.4 161.4,431.1 161.7,432.7 161.9,433.9 162.1,428.0 162.3,434.0 162.5,432.8 162.7,430.1 162.9,438.3 163.1,423.2 163.3,434.0 163.5,428.1 163.7,426.1 163.9,428.7 164.1,430.5 164.3,425.8 164.5,423.3 164.8,428.1 165.0,422.5 165.2,428.3 165.4,421.1 165.6,425.8 165.8,422.0 166.0,424.0 166.2,420.5 166.4,421.3 166.6,418.4 166.8,427.1 167.0,415.4 167.3,423.6 167.5,420.0 167.7,413.4 167.9,410.4 168.1,409.6 168.3,416.5 168.5,412.5 168.7,412.0 169.0,409.4 169.2,413.7 169.4,409.2 169.6,408.6 169.8,410.6 170.0,408.0 170.2,407.0 170.4,403.9 170.6,404.3 170.8,405.8 171.0,403.5 171.2,400.6 171.5,401.9 171.7,401.7 171.9,395.9 172.1,401.3 172.3,397.5 172.5,392.1 172.7,392.6 172.9,400.0 173.1,391.4 173.3,396.1 173.5,395.9 173.7,399.3 173.9,395.1 174.1,393.2 174.3,395.2 174.6,392.5 174.8,393.0 175.0,394.9 175.2,396.0 175.4,395.4 175.6,394.2 175.8,401.8 176.0,394.4 176.2,393.0 176.4,400.3 176.6,398.7 176.8,402.0 177.0,395.6 177.2,400.3 177.4,396.6 177.6,400.3 177.8,395.2 178.0,394.2 178.2,393.9 178.5,395.1 178.7,392.2 178.9,396.0 179.1,397.5 179.3,394.6 179.5,402.5 179.7,400.0 179.9,392.0 180.1,392.6 180.3,400.2 180.5,389.6 180.7,392.5 180.9,397.2 181.1,401.7 181.3,396.1 181.5,396.7 181.7,397.8 181.9,391.6 182.1,394.9 182.3,393.9 182.5,395.0 182.7,391.5 182.9,389.6 183.1,390.4 183.3,394.0 183.5,400.7 183.7,393.5 183.9,395.4 184.1,392.3 184.3,399.5 184.5,395.8 184.7,395.2 184.9,391.4 185.1,393.4 185.3,399.5 185.5,394.7 185.7,397.3 185.9,393.3 186.1,395.9 186.3,393.0 186.5,397.2 186.7,397.3 186.9,394.1 187.1,394.2 187.3,395.8 187.5,392.5 187.8,392.3 188.0,395.8 188.2,389.7 188.4,398.6 188.6,390.0 188.8,393.4 189.0,396.0 189.2,397.9 189.4,396.2 189.6,396.4 189.8,396.2 190.0,392.2 190.2,394.9 190.4,387.1 190.6,398.5 190.8,397.6 191.0,399.6 191.3,397.2 191.5,394.8 191.7,395.2 191.9,398.9 192.1,393.1 192.3,396.0 192.5,399.1 192.7,397.0 193.0,399.8 193.2,404.1 193.4,399.8 193.6,392.3 193.8,394.9 194.0,396.5 194.2,396.4 194.4,399.2 194.6,398.7 194.8,401.0 195.0,404.3 195.2,406.0 195.5,405.0 195.7,407.6 195.9,408.3 196.1,400.1 196.3,405.8 196.5,410.1 196.7,403.5 196.9,406.0 197.1,410.5 197.3,405.3 197.5,408.8 197.7,407.0 197.9,413.6 198.1,410.4 198.3,405.9 198.6,413.3 198.8,410.2 199.0,417.7 199.2,414.5 199.4,413.5 199.6,413.7 199.8,416.8 200.0,419.6 200.2,412.0 200.4,416.7 200.6,421.0 200.8,413.2 201.0,421.5 201.2,419.2 201.4,422.4 201.6,420.9 201.8,418.1 202.0,424.9 202.2,425.2 202.5,421.9 202.7,417.2 202.9,423.2 203.1,423.1 203.3,424.6 203.5,425.4 203.7,421.8 203.9,420.0 204.1,418.8 204.3,420.9 204.5,421.6 204.7,423.7 204.9,423.0 205.1,427.3 205.3,422.1 205.5,423.4 205.7,428.1 205.9,425.2 206.2,427.7 206.4,429.7 206.6,428.7 206.8,420.4 207.0,418.5 207.2,426.8 207.4,426.0 207.6,431.9 207.8,430.1 208.0,424.7 208.2,429.0 208.4,429.6 208.6,431.8 208.8,429.3 209.0,426.1 209.2,433.1 209.4,435.3 209.7,431.7 209.9,431.6 210.1,432.7 210.3,432.1 210.5,431.5 210.7,426.7 210.9,428.4 211.1,424.7 211.3,434.9 211.5,431.5 211.7,427.6 211.9,434.0 212.1,426.2 212.3,425.4 212.5,432.9 212.7,428.5 212.9,432.1 213.1,427.2 213.3,423.5 213.5,431.7 213.7,425.1 213.9,423.6 214.1,430.4 214.3,423.1 214.5,424.4 214.7,422.0 214.9,421.1 215.1,426.9 215.3,422.9 215.5,421.7 215.7,429.9 215.9,427.3 216.1,431.0 216.3,422.7 216.5,419.8 216.7,418.7 216.9,428.3 217.1,421.5 217.3,429.7 217.5,423.5 217.7,423.2 217.9,420.5 218.1,424.8 218.3,421.7 218.5,427.0 218.8,421.8 219.0,427.2 219.2,429.9 219.4,423.1 219.6,428.6 219.8,419.8 220.0,424.6 220.2,425.4 220.4,422.3 220.6,426.0 220.8,424.2 221.0,420.9 221.2,428.1 221.4,422.9 221.6,423.6 221.8,420.2 222.0,429.5 222.2,425.0 222.4,429.5 222.6,418.5 222.8,422.3 223.0,421.9 223.2,422.7 223.4,425.8 223.6,430.5 223.8,424.0 224.0,425.1 224.2,422.0 224.4,421.4 224.6,429.7 224.8,430.8 225.0,429.9 225.2,424.5 225.5,425.7 225.7,430.0 225.9,422.3 226.1,424.8 226.3,428.7 226.5,428.8 226.7,420.9 226.9,430.4 227.1,423.1 227.3,427.1 227.5,425.4 227.7,422.6 227.9,430.7 228.1,430.4 228.3,429.1 228.5,431.2 228.7,423.3 228.9,423.3 229.1,429.9 229.3,422.8 229.5,424.6 229.7,423.0 229.9,427.4 230.1,429.7 230.3,422.4 230.5,421.6 230.7,420.7 230.9,423.5 231.1,422.1 231.4,427.7 231.6,424.8 231.8,420.8 232.0,423.4 232.2,424.9 232.4,419.1 232.6,423.6 232.8,422.9 233.0,427.5 233.2,423.0 233.4,428.0 233.6,421.8 233.8,426.6 234.0,418.0 234.2,422.1 234.4,422.9 234.6,424.0 234.8,421.6 235.0,424.4 235.2,426.7 235.4,425.9 235.6,426.3 235.8,426.7 236.0,431.5 236.2,418.8 236.4,425.0 236.6,429.0 236.9,423.5 237.1,428.3 237.3,423.3 237.5,424.2 237.7,422.6 237.9,425.5 238.1,423.2 238.3,428.8 238.5,422.9 238.7,421.7 238.9,430.2 239.1,423.8 239.3,429.3 239.5,422.8 239.7,425.8 239.9,426.1 240.1,429.5 240.3,425.3 240.5,424.8 240.7,426.3 240.9,422.6 241.1,422.3 241.3,425.4 241.5,419.2 241.8,422.0 242.0,423.6 242.2,427.4 242.4,421.7 242.6,427.2 242.8,422.1 243.0,418.1 243.2,426.2 243.4,424.7 243.6,422.7 243.8,425.6 244.0,416.3 244.2,417.6 244.5,413.8 244.7,415.5 244.9,418.0 245.1,406.6 245.3,412.8 245.6,408.5 245.8,410.3 246.0,406.9 246.2,404.8 246.4,404.7 246.6,407.4 246.8,397.2 247.0,399.3 247.2,395.8 247.4,401.6 247.6,396.1 247.8,399.1 248.0,397.5 248.2,390.9 248.4,389.1 248.6,393.2 248.8,390.8 249.0,385.7 249.2,390.2 249.4,387.7 249.6,388.6 249.8,390.1 250.0,389.5 250.2,382.3 250.4,388.2 250.6,386.6 250.8,382.9 251.0,385.8 251.3,381.5 251.5,383.6 251.7,378.1 251.9,375.8 252.1,378.1 252.3,377.2 252.5,373.9 252.7,371.3 253.0,378.9 253.2,373.1 253.4,372.0 253.6,378.7 253.8,379.2 254.0,372.3 254.2,378.2 254.4,384.7 254.6,375.6 254.8,372.2 255.0,373.6 255.2,377.0 255.4,373.5 255.6,373.2 255.8,372.3 256.0,376.7 256.2,379.2 256.4,378.0 256.6,374.5 256.8,375.4 257.0,374.7 257.2,372.5 257.4,375.2 257.6,372.9 257.8,375.9 258.0,374.5 258.2,381.6 258.4,381.9 258.6,374.6 258.8,374.1 259.0,381.2 259.2,379.2 259.4,385.8 259.6,379.6 259.9,382.1 260.1,384.7 260.3,375.0 260.5,380.2 260.7,380.9 260.9,388.9 261.1,385.7 261.3,382.9 261.5,388.1 261.7,381.8 261.9,390.6 262.1,383.7 262.3,388.0 262.5,385.8 262.7,387.6 262.9,395.7 263.1,391.0 263.3,396.2 263.6,389.2 263.8,393.5 264.0,397.0 264.2,399.1 264.4,397.7 264.6,396.4 264.8,404.7 265.0,393.9 265.2,402.5 265.4,400.6 265.6,402.2 265.8,397.2 266.0,398.7 266.2,397.8 266.4,401.2 266.7,402.2 266.9,406.8 267.1,400.4 267.3,399.0 267.5,403.0" class="err"/>
<rect x="49.5" y="361.6" width="219.9" height="91.5" class="ax"/>
<line x1="100.9" y1="453.1" x2="100.9" y2="451.1" class="tk"/>
<line x1="100.9" y1="361.6" x2="100.9" y2="363.6" class="tk"/>
<line x1="152.3" y1="453.1" x2="152.3" y2="451.1" class="tk"/>
<line x1="152.3" y1="361.6" x2="152.3" y2="363.6" class="tk"/>
<line x1="203.7" y1="453.1" x2="203.7" y2="451.1" class="tk"/>
<line x1="203.7" y1="361.6" x2="203.7" y2="363.6" class="tk"/>
<line x1="255.1" y1="453.1" x2="255.1" y2="451.1" class="tk"/>
<line x1="255.1" y1="361.6" x2="255.1" y2="363.6" class="tk"/>
<line x1="49.5" y1="407.3" x2="51.5" y2="407.3" class="tk"/>
<line x1="269.4" y1="407.3" x2="267.4" y2="407.3" class="tk"/>
<text x="49.5" y="472.8" class="tl" text-anchor="middle">0</text>
<text x="100.9" y="472.8" class="tl" text-anchor="middle">20</text>
<text x="152.3" y="472.8" class="tl" text-anchor="middle">40</text>
<text x="203.7" y="472.8" class="tl" text-anchor="middle">60</text>
<text x="255.1" y="472.8" class="tl" text-anchor="middle">80</text>
<text x="43.8" y="366.9" class="tl" text-anchor="end">2</text>
<text x="43.8" y="412.6" class="tl" text-anchor="end">0</text>
<text x="43.8" y="458.4" class="tl" text-anchor="end">-2</text>
<rect x="68.7" y="435.5" width="58.8" height="17.6" class="leg"/>
<line x1="70.9" y1="443.9" x2="88.4" y2="443.9" class="errl"/>
<text x="90.5" y="449" class="lt">Error</text>
<text x="149.8" y="371.7" class="me" textLength="90.7" lengthAdjust="spacingAndGlyphs">Max Error: 1.44°</text>
<text x="149.8" y="384.9" class="me" textLength="97.3" lengthAdjust="spacingAndGlyphs">Mean Error: 0.74°</text>
<text transform="translate(25,406.9) rotate(-90)" class="al" text-anchor="middle">Error (°)</text>
<text x="159.4" y="485.3" class="al" text-anchor="middle">Time (s)</text>
<line x1="360.8" y1="359.6" x2="360.8" y2="451.9" class="grid"/>
<line x1="403.8" y1="359.6" x2="403.8" y2="451.9" class="grid"/>
<line x1="446.9" y1="359.6" x2="446.9" y2="451.9" class="grid"/>
<line x1="489.9" y1="359.6" x2="489.9" y2="451.9" class="grid"/>
<line x1="317.7" y1="405.5" x2="533.2" y2="405.5" class="grid"/>
<polyline points="318.1,391.3 318.3,393.2 318.6,390.4 318.8,394.1 319.0,395.6 319.2,390.7 319.5,389.3 319.7,394.1 319.9,392.6 320.2,394.4 320.4,388.3 320.6,399.1 320.8,392.0 321.1,399.4 321.3,392.7 321.5,395.5 321.7,391.6 322.0,396.6 322.2,398.8 322.4,390.4 322.6,391.4 322.8,397.7 323.1,392.4 323.3,397.6 323.5,392.0 323.7,397.2 324.0,395.7 324.2,392.9 324.4,394.7 324.6,393.1 324.8,394.6 325.1,396.5 325.3,397.1 325.5,393.7 325.7,391.3 325.9,396.5 326.2,392.0 326.4,395.2 326.6,396.7 326.8,391.8 327.1,399.0 327.3,395.9 327.5,398.1 327.7,397.4 328.0,398.7 328.2,403.0 328.4,398.9 328.6,402.3 328.9,399.4 329.1,403.7 329.3,410.1 329.6,410.5 329.8,412.4 330.0,413.8 330.2,412.0 330.5,412.9 330.7,413.3 330.9,412.0 331.1,414.4 331.4,415.4 331.6,410.8 331.8,413.2 332.0,413.7 332.2,415.1 332.5,414.7 332.7,418.1 332.9,413.3 333.1,413.2 333.4,416.3 333.6,412.4 333.8,415.6 334.0,412.4 334.2,418.9 334.5,418.0 334.7,413.4 334.9,421.1 335.1,419.7 335.3,417.7 335.6,414.5 335.8,413.0 336.0,413.9 336.2,415.7 336.5,419.9 336.7,421.6 336.9,421.7 337.1,422.3 337.3,416.5 337.6,418.1 337.8,421.0 338.0,416.8 338.2,421.9 338.4,422.8 338.7,417.3 338.9,426.5 339.1,422.3 339.3,418.7 339.5,424.1 339.8,415.4 340.0,424.6 340.2,420.3 340.4,424.3 340.7,422.8 340.9,425.1 341.1,419.0 341.3,420.3 341.5,426.3 341.8,422.4 342.0,425.2 342.2,426.6 342.4,423.3 342.6,423.7 342.9,422.1 343.1,422.5 343.3,423.4 343.5,425.3 343.7,424.2 344.0,423.2 344.2,426.1 344.4,426.5 344.6,423.4 344.9,423.4 345.1,425.7 345.3,430.0 345.5,427.8 345.7,428.0 346.0,427.0 346.2,424.2 346.4,429.1 346.6,427.4 346.8,427.9 347.1,425.7 347.3,424.3 347.5,423.3 347.7,423.8 347.9,424.9 348.2,421.6 348.4,424.8 348.6,424.2 348.8,425.0 349.1,420.1 349.3,422.6 349.5,424.4 349.7,422.3 349.9,421.2 350.2,423.3 350.4,421.1 350.6,421.2 350.8,417.8 351.1,424.0 351.3,415.8 351.5,418.1 351.7,417.2 351.9,416.7 352.2,421.5 352.4,415.7 352.6,421.4 352.8,412.0 353.1,416.1 353.3,408.1 353.5,411.4 353.8,408.1 354.0,405.8 354.2,400.7 354.5,397.1 354.7,393.2 354.9,394.6 355.2,395.7 355.4,397.1 355.6,393.6 355.9,388.6 356.1,393.1 356.3,384.2 356.6,394.1 356.8,387.9 357.0,389.1 357.3,389.5 357.5,386.7 357.7,386.0 357.9,389.9 358.2,386.1 358.4,391.3 358.6,385.5 358.9,386.7 359.1,386.8 359.3,389.0 359.5,392.7 359.8,380.3 360.0,382.9 360.2,390.2 360.4,382.4 360.7,387.9 360.9,385.3 361.1,383.6 361.3,385.5 361.6,384.1 361.8,384.9 362.0,390.1 362.2,381.4 362.4,384.0 362.7,381.1 362.9,383.7 363.1,387.9 363.3,381.8 363.5,381.8 363.8,383.3 364.0,384.2 364.2,387.3 364.4,379.8 364.6,385.2 364.9,383.9 365.1,379.9 365.3,381.2 365.5,378.3 365.8,381.5 366.0,381.0 366.2,377.8 366.4,380.1 366.7,388.2 366.9,387.5 367.1,384.7 367.4,382.0 367.6,384.2 367.8,386.4 368.1,386.1 368.3,393.8 368.5,394.7 368.8,391.4 369.0,395.6 369.2,393.0 369.5,397.1 369.7,396.0 369.9,395.6 370.2,396.9 370.4,398.4 370.6,398.6 370.8,400.7 371.1,402.3 371.3,405.3 371.5,406.3 371.7,400.0 371.9,400.8 372.2,403.9 372.4,405.5 372.6,406.7 372.8,406.3 373.1,410.3 373.3,408.6 373.5,405.8 373.7,411.9 373.9,407.9 374.2,406.7 374.4,406.4 374.6,414.6 374.8,412.8 375.0,407.5 375.3,416.2 375.5,419.0 375.7,413.6 375.9,416.1 376.2,422.3 376.4,420.1 376.6,418.8 376.8,416.7 377.0,421.5 377.3,422.1 377.5,421.3 377.7,423.3 377.9,423.2 378.1,420.1 378.4,420.7 378.6,422.6 378.8,423.2 379.0,424.4 379.2,423.7 379.5,423.9 379.7,424.4 379.9,423.8 380.1,427.0 380.4,426.5 380.6,427.4 380.8,420.0 381.0,422.0 381.2,427.9 381.5,424.4 381.7,429.9 381.9,425.7 382.1,428.7 382.4,423.7 382.6,425.6 382.8,424.7 383.0,425.7 383.3,423.9 383.5,425.6 383.7,425.8 383.9,425.7 384.2,424.7 384.4,430.4 384.6,430.6 384.8,427.0 385.1,427.6 385.3,427.2 385.5,430.2 385.7,428.0 386.0,430.0 386.2,427.1 386.4,431.4 386.6,431.3 386.9,426.7 387.1,429.3 387.3,429.5 387.6,431.6 387.8,427.8 388.0,430.0 388.2,426.3 388.5,425.3 388.7,425.1 388.9,425.7 389.2,424.2 389.4,423.2 389.6,422.0 389.8,417.9 390.1,419.4 390.3,421.8 390.5,421.4 390.8,416.0 391.0,418.8 391.2,423.3 391.4,420.9 391.7,423.2 391.9,417.2 392.1,417.4 392.4,421.6 392.6,418.7 392.8,414.9 393.0,421.3 393.3,421.1 393.5,416.1 393.7,417.0 393.9,417.8 394.2,416.7 394.4,415.3 394.6,416.3 394.8,417.3 395.1,417.2 395.3,414.6 395.5,414.4 395.7,418.1 395.9,415.0 396.2,414.6 396.4,411.2 396.6,418.4 396.8,410.6 397.1,411.2 397.3,413.9 397.5,413.0 397.7,414.1 397.9,410.1 398.2,409.2 398.4,406.1 398.6,413.7 398.8,410.9 399.0,409.8 399.3,409.8 399.5,416.3 399.7,411.2 399.9,411.0 400.1,409.8 400.4,411.3 400.6,410.1 400.8,416.9 401.0,409.5 401.3,414.9 401.5,410.3 401.7,415.6 401.9,418.0 402.1,411.1 402.4,418.2 402.6,414.6 402.8,413.4 403.0,414.5 403.3,411.2 403.5,417.4 403.7,411.9 403.9,412.5 404.2,420.5 404.4,410.5 404.6,418.0 404.8,417.7 405.1,410.5 405.3,415.6 405.5,411.5 405.7,412.8 406.0,410.7 406.2,416.2 406.4,413.6 406.6,410.6 406.9,410.8 407.1,412.5 407.3,412.3 407.5,417.1 407.8,416.3 408.0,410.1 408.2,416.5 408.4,413.4 408.7,410.7 408.9,413.4 409.1,410.9 409.3,408.8 409.5,416.2 409.8,419.8 410.0,413.0 410.2,413.6 410.4,410.9 410.6,410.2 410.9,409.2 411.1,413.1 411.3,416.6 411.5,410.7 411.8,415.1 412.0,410.0 412.2,417.5 412.4,414.2 412.6,411.4 412.9,412.3 413.1,408.6 413.3,411.8 413.5,411.1 413.7,412.8 414.0,407.5 414.2,411.3 414.4,416.7 414.6,412.6 414.9,415.0 415.1,414.8 415.3,410.4 415.5,415.6 415.7,409.6 416.0,415.4 416.2,414.3 416.4,410.1 416.6,416.5 416.8,415.0 417.1,415.5 417.3,412.6 417.5,415.5 417.7,411.6 417.9,413.5 418.2,410.2 418.4,415.6 418.6,413.6 418.8,413.0 419.1,416.7 419.3,415.1 419.5,415.8 419.7,414.0 420.0,414.3 420.2,407.4 420.4,412.5 420.7,409.6 420.9,410.2 421.1,405.7 421.4,405.5 421.6,404.9 421.9,396.6 422.1,395.4 422.3,387.5 422.6,391.0 422.8,389.0 423.0,383.1 423.3,380.8 423.5,380.3 423.7,384.9 424.0,377.4 424.2,378.9 424.4,377.0 424.6,381.3 424.9,384.1 425.1,374.6 425.3,376.7 425.5,376.7 425.7,374.9 426.0,373.5 426.2,379.4 426.4,375.4 426.6,379.4 426.9,372.6 427.1,375.4 427.3,374.6 427.5,376.6 427.7,375.6 428.0,378.5 428.2,374.0 428.4,371.4 428.6,376.4 428.9,374.5 429.1,378.0 429.3,375.5 429.5,372.0 429.8,378.7 430.0,374.7 430.2,376.9 430.4,373.1 430.7,373.2 430.9,374.3 431.1,376.1 431.4,376.3 431.6,378.6 431.8,376.4 432.0,372.2 432.3,377.5 432.5,373.8 432.7,379.8 432.9,372.1 433.2,371.2 433.4,373.7 433.6,376.8 433.8,376.7 434.0,372.1 434.3,373.6 434.5,378.1 434.7,372.0 434.9,373.9 435.2,375.3 435.4,374.7 435.6,373.9 435.8,375.4 436.0,372.2 436.3,377.3 436.5,372.2 436.7,371.9 436.9,370.4 437.2,374.9 437.4,378.2 437.6,373.3 437.8,377.3 438.1,374.9 438.3,372.8 438.5,377.4 438.8,377.6 439.0,379.0 439.2,380.6 439.4,376.1 439.7,380.1 439.9,375.5 440.1,378.6 440.3,380.0 440.6,376.0 440.8,375.7 441.0,379.5 441.2,381.1 441.4,379.3 441.7,378.6 441.9,383.0 442.1,378.2 442.3,383.3 442.6,384.8 442.8,383.8 443.0,383.4 443.2,379.5 443.4,384.3 443.7,381.9 443.9,385.7 444.1,377.8 444.3,384.9 444.6,386.2 444.8,388.3 445.0,383.8 445.2,381.5 445.4,381.1 445.7,385.3 445.9,381.4 446.1,383.2 446.3,383.8 446.5,387.8 446.8,382.3 447.0,386.9 447.2,380.4 447.4,380.2 447.6,384.2 447.9,385.3 448.1,382.5 448.3,386.7 448.5,386.8 448.8,386.3 449.0,386.1 449.2,379.3 449.4,383.4 449.6,381.4 449.9,379.1 450.1,381.5 450.3,381.2 450.5,378.5 450.7,378.3 451.0,381.1 451.2,384.2 451.4,383.9 451.6,381.9 451.8,372.6 452.1,382.7 452.3,380.7 452.5,379.4 452.7,383.2 453.0,374.3 453.2,382.2 453.4,375.3 453.6,375.9 453.8,378.3 454.1,381.6 454.3,378.0 454.5,375.5 454.7,376.3 454.9,374.6 455.2,380.3 455.4,382.7 455.6,381.0 455.8,381.8 456.0,374.3 456.3,380.5 456.5,376.1 456.7,382.5 456.9,376.8 457.2,379.5 457.4,381.9 457.6,381.0 457.8,382.2 458.0,381.3 458.3,378.4 458.5,382.7 458.7,383.9 458.9,378.9 459.2,378.9 459.4,381.8 459.6,385.6 459.8,384.4 460.1,380.1 460.3,381.8 460.5,386.3 460.7,385.7 461.0,384.6 461.2,383.8 461.4,382.6 461.6,381.9 461.9,381.8 462.1,387.7 462.3,387.7 462.5,383.8 462.8,381.5 463.0,388.9 463.2,382.2 463.4,381.9 463.7,388.3 463.9,381.3 464.1,385.9 464.3,385.5 464.6,386.4 464.8,382.7 465.0,384.2 465.2,382.0 465.5,382.3 465.7,388.7 465.9,383.3 466.1,384.1 466.4,383.4 466.6,387.0 466.8,383.5 467.0,389.7 467.3,383.8 467.5,385.6 467.7,384.4 467.9,391.2 468.2,380.4 468.4,389.1 468.6,387.9 468.8,387.1 469.1,389.1 469.3,389.9 469.5,391.5 469.8,391.5 470.0,391.2 470.2,395.1 470.4,388.3 470.6,387.0 470.9,388.0 471.1,386.1 471.3,393.5 471.5,393.3 471.8,392.7 472.0,392.3 472.2,388.5 472.4,390.0 472.6,394.3 472.9,393.3 473.1,394.5 473.3,394.5 473.5,391.0 473.8,392.4 474.0,398.4 474.2,396.5 474.5,399.8 474.7,400.5 474.9,399.6 475.2,397.4 475.4,396.1 475.6,401.4 475.8,396.8 476.1,400.6 476.3,400.8 476.5,396.5 476.7,394.4 476.9,395.6 477.2,401.3 477.4,398.0 477.6,397.8 477.8,391.7 478.1,392.5 478.3,393.2 478.5,399.6 478.7,394.2 478.9,392.0 479.2,395.6 479.4,396.0 479.6,393.4 479.8,395.5 480.0,393.2 480.3,395.0 480.5,399.7 480.7,393.2 480.9,402.2 481.2,398.5 481.4,392.2 481.6,402.0 481.8,399.5 482.0,392.4 482.3,405.2 482.5,397.7 482.7,396.1 482.9,397.1 483.1,397.3 483.4,401.6 483.6,398.3 483.8,394.9 484.1,398.5 484.3,400.6 484.5,403.8 484.7,398.6 484.9,398.9 485.2,398.4 485.4,397.5 485.6,396.0 485.9,398.9 486.1,403.6 486.3,398.7 486.5,400.7 486.8,404.0 487.0,397.2 487.2,398.0 487.4,400.1 487.6,398.7 487.9,400.3 488.1,397.3 488.3,400.6 488.6,403.6 488.8,396.9 489.0,402.2 489.2,397.3 489.4,403.1 489.7,399.2 489.9,402.3 490.1,398.7 490.4,405.2 490.6,404.6 490.8,402.9 491.0,402.8 491.2,395.1 491.5,399.3 491.7,404.3 491.9,406.0 492.1,407.6 492.4,400.5 492.6,402.9 492.8,402.8 493.1,406.6 493.3,400.7 493.5,406.6 493.7,401.9 493.9,402.2 494.2,399.7 494.4,401.0 494.6,399.8 494.9,401.9 495.1,404.5 495.3,398.2 495.5,404.9 495.8,404.4 496.0,405.2 496.2,401.6 496.4,404.0 496.7,407.5 496.9,407.3 497.1,402.6 497.3,407.1 497.6,399.7 497.8,402.9 498.0,407.6 498.2,405.0 498.5,407.2 498.7,402.9 498.9,406.1 499.1,407.3 499.4,405.3 499.6,408.2 499.8,402.5 500.0,402.1 500.3,405.3 500.5,401.8 500.7,405.8 500.9,405.8 501.2,400.2 501.4,405.1 501.6,408.2 501.8,404.7 502.1,405.5 502.3,405.9 502.5,399.7 502.7,400.4 502.9,401.0 503.2,398.5 503.4,395.9 503.6,400.0 503.8,403.7 504.0,399.2 504.3,399.8 504.5,396.8 504.7,398.1 504.9,404.7 505.1,403.8 505.4,402.4 505.6,407.3 505.8,400.0 506.0,404.4 506.3,404.8 506.5,399.0 506.7,402.6 506.9,396.7 507.1,400.0 507.4,396.9 507.6,404.6 507.8,402.7 508.0,406.0 508.2,404.2 508.5,403.7 508.7,399.6 508.9,403.6 509.1,407.3 509.3,408.5 509.6,405.3 509.8,404.5 510.0,405.2 510.2,409.4 510.5,412.5 510.7,411.9 510.9,406.7 511.1,412.1 511.3,409.2 511.6,408.6 511.8,412.7 512.0,409.3 512.2,410.4 512.4,414.2 512.7,408.1 512.9,411.0 513.1,410.5 513.3,406.8 513.5,410.1 513.8,407.9 514.0,410.7 514.2,411.4 514.4,405.8 514.7,409.6 514.9,403.4 515.1,403.4 515.3,408.9 515.6,403.1 515.8,405.3 516.0,406.6 516.3,403.2 516.5,403.2 516.7,401.8 517.0,401.2 517.2,402.9 517.4,405.5 517.7,403.1 517.9,407.3 518.1,400.9 518.4,405.4 518.6,400.8 518.8,407.7 519.1,405.9 519.3,405.2" class="err"/>
<rect x="317.7" y="359.6" width="215.5" height="92.3" class="ax"/>
<line x1="360.8" y1="451.9" x2="360.8" y2="449.9" class="tk"/>
<line x1="360.8" y1="359.6" x2="360.8" y2="361.6" class="tk"/>
<line x1="403.8" y1="451.9" x2="403.8" y2="449.9" class="tk"/>
<line x1="403.8" y1="359.6" x2="403.8" y2="361.6" class="tk"/>
<line x1="446.9" y1="451.9" x2="446.9" y2="449.9" class="tk"/>
<line x1="446.9" y1="359.6" x2="446.9" y2="361.6" class="tk"/>
<line x1="489.9" y1="451.9" x2="489.9" y2="449.9" class="tk"/>
<line x1="489.9" y1="359.6" x2="489.9" y2="361.6" class="tk"/>
<line x1="317.7" y1="405.5" x2="319.7" y2="405.5" class="tk"/>
<line x1="533.2" y1="405.5" x2="531.2" y2="405.5" class="tk"/>
<text x="317.7" y="470.7" class="tl" text-anchor="middle">0</text>
<text x="360.8" y="470.7" class="tl" text-anchor="middle">10</text>
<text x="403.8" y="470.7" class="tl" text-anchor="middle">20</text>
<text x="446.9" y="470.7" class="tl" text-anchor="middle">30</text>
<text x="489.9" y="470.7" class="tl" text-anchor="middle">40</text>
<text x="533.0" y="470.7" class="tl" text-anchor="middle">50</text>
<text x="312.5" y="364.9" class="tl" text-anchor="end">2</text>
<text x="312.5" y="410.8" class="tl" text-anchor="end">0</text>
<text x="312.5" y="457.2" class="tl" text-anchor="end">-2</text>
<rect x="476.6" y="359.6" width="56.6" height="17.4" class="leg"/>
<line x1="478.5" y1="369.2" x2="495" y2="369.2" class="errl"/>
<text x="496.3" y="373.8" class="lt">Error</text>
<text x="435.3" y="432.4" class="me" style="font-size:11.6px" textLength="84" lengthAdjust="spacingAndGlyphs">Max Error: 1.36°</text>
<text x="435.3" y="446" class="me" style="font-size:11.6px" textLength="91.1" lengthAdjust="spacingAndGlyphs">Mean Error: 0.62°</text>
<text transform="translate(295,405) rotate(-90)" class="al" text-anchor="middle">Error (°)</text>
<text x="424" y="484.9" class="al" text-anchor="middle">Time (s)</text>
<text x="19.6" y="21.3" font-size="10.5" style="fill:#7a70a8;stroke:none;font-weight:normal">(<tspan style="fill:#1c1450;font-weight:bold">a</tspan>)</text>
<text x="278" y="216.3" font-size="10.8" style="fill:#7a70a8;stroke:none;font-weight:normal">(<tspan style="fill:#1c1450;font-weight:bold">i</tspan>)</text>
<text x="283.5" y="503.6" font-size="11.2" style="fill:#7a70a8;stroke:none;font-weight:normal">(<tspan style="fill:#1c1450;font-weight:bold">ii</tspan>)</text>
</svg>
</body></html>
